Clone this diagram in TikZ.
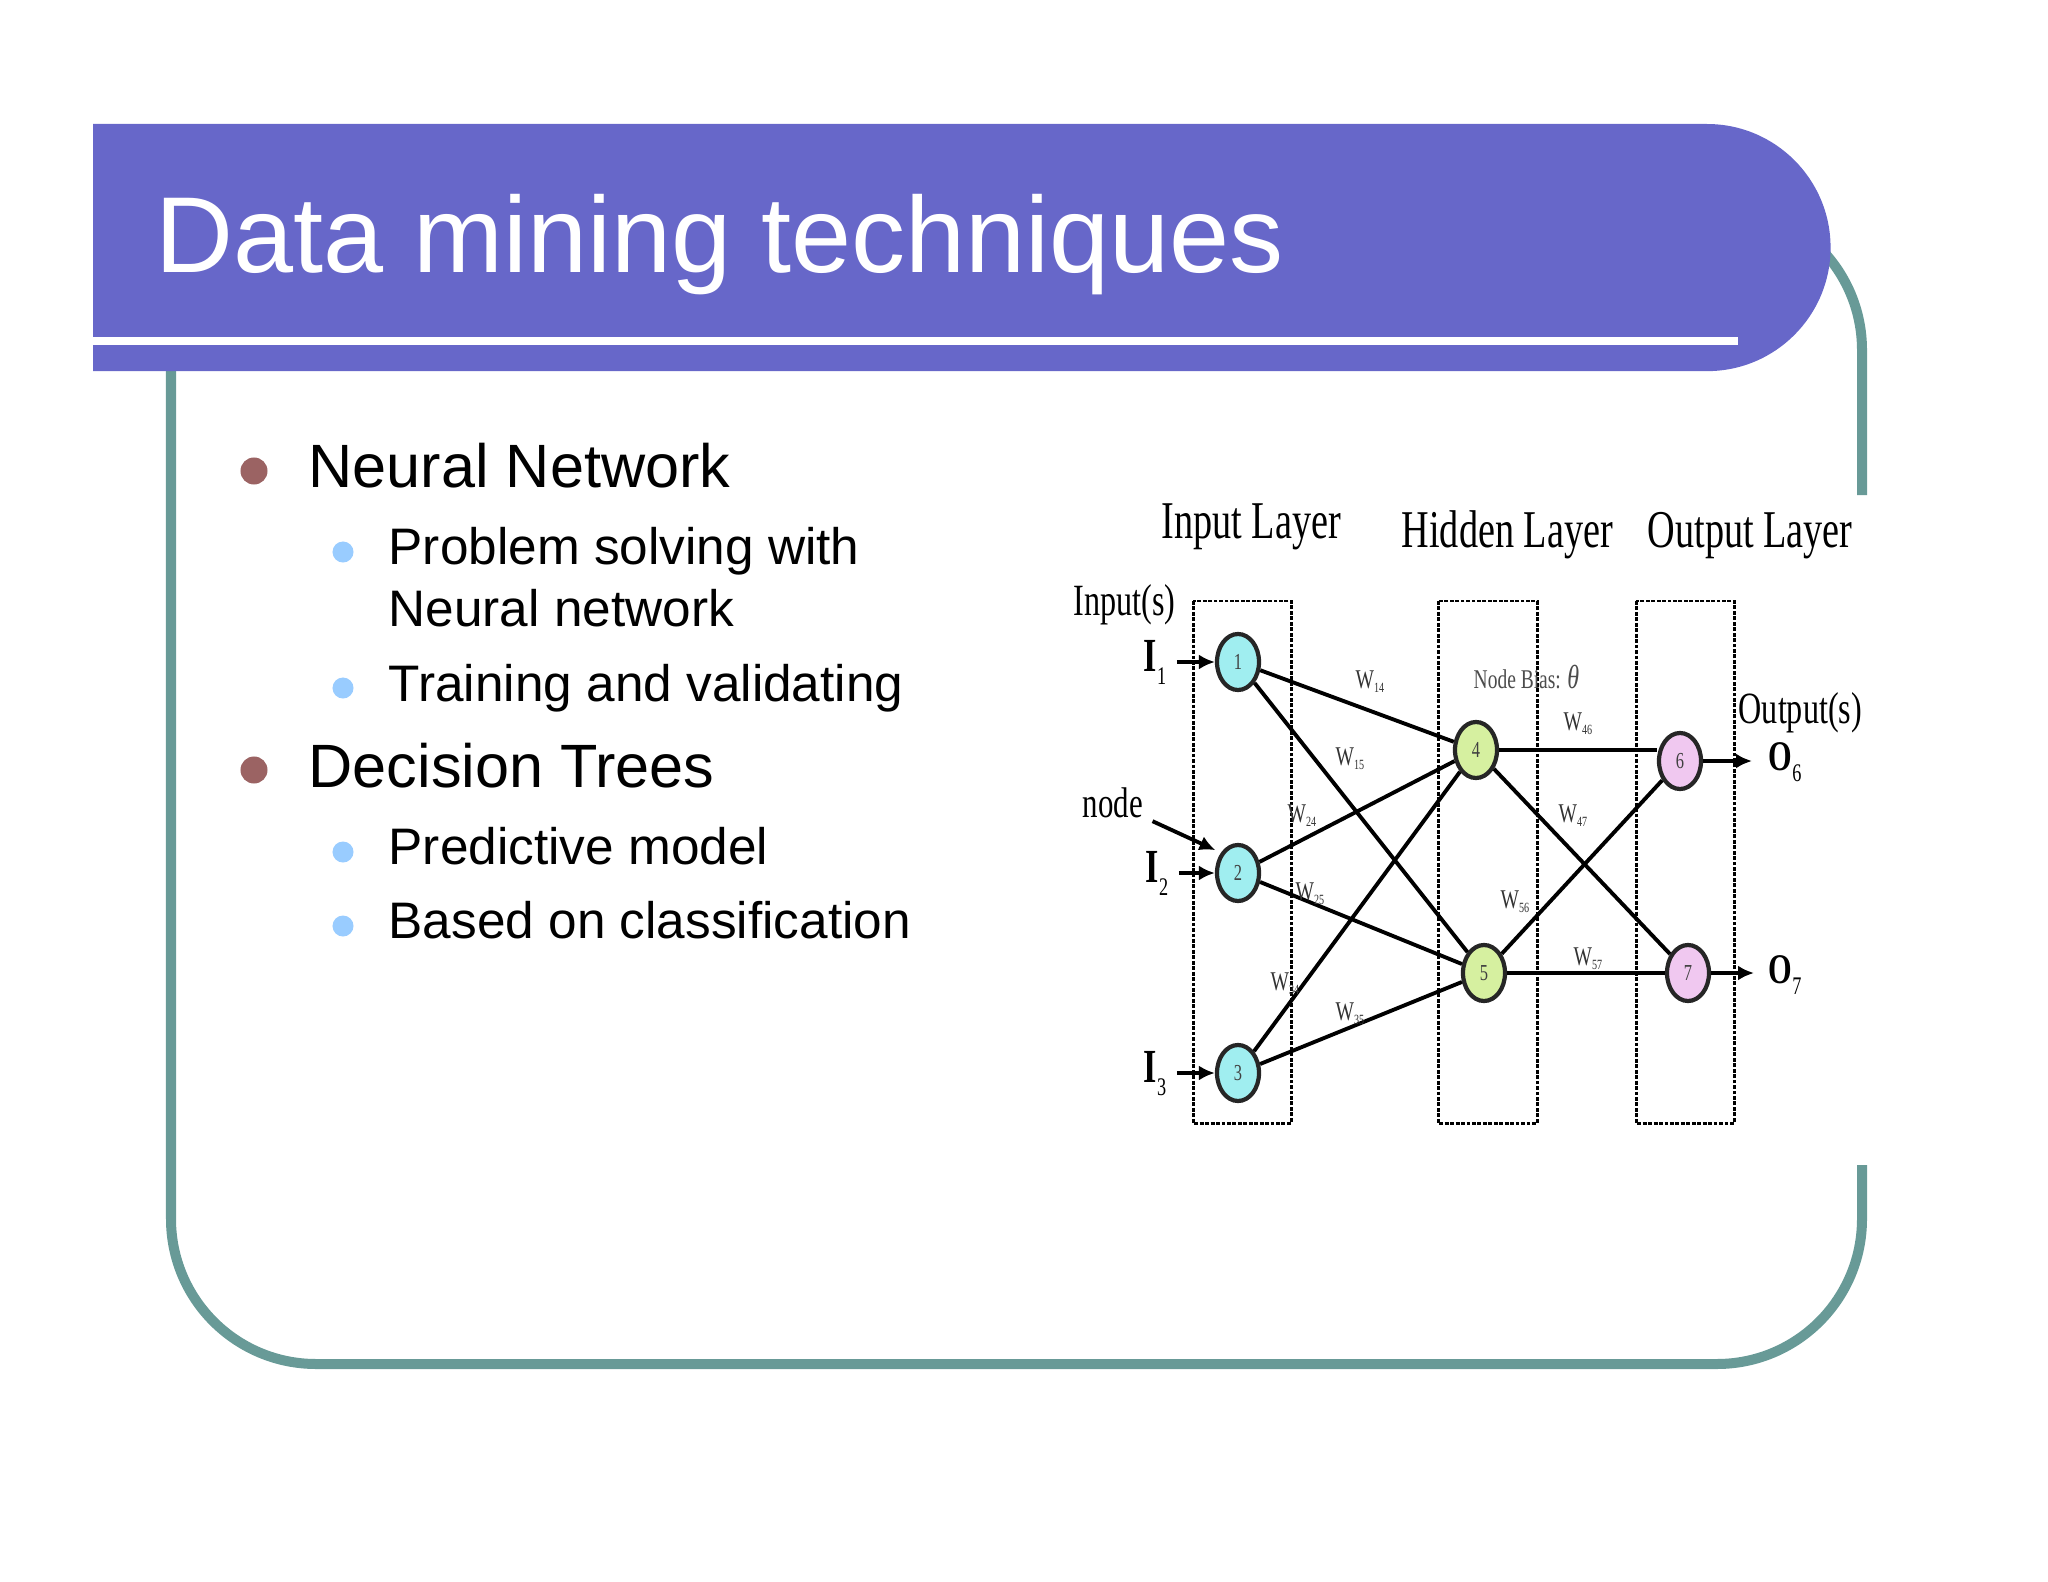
\documentclass[tikz,border=0pt]{standalone}
\usepackage{fontspec}
\setmainfont{Liberation Sans}
\newfontfamily\diagfont[FakeStretch=0.72]{Liberation Serif}
\usepackage{tikz}
\usetikzlibrary{shapes.geometric}
\usetikzlibrary{arrows.meta}

\definecolor{bannerblue}{RGB}{103,103,201}
\definecolor{frameteal}{RGB}{104,154,151}
\definecolor{bulletbrown}{RGB}{155,99,99}
\definecolor{bulletblue}{RGB}{153,204,255}
\definecolor{neuroncyan}{RGB}{160,238,240}
\definecolor{neurongreen}{RGB}{214,240,160}
\definecolor{neuronpink}{RGB}{240,200,240}

\newcommand{\wlabel}[1]{W\raisebox{-0.4ex}{\fontsize{4}{5}\selectfont #1}}
\newcommand{\ioname}[2]{{\bfseries #1}\raisebox{-0.6ex}{\fontsize{7.2}{8}\selectfont #2}}

\tikzset{
  slideframe/.style={draw=frameteal, line width=0.1cm},
  bullettext/.style={anchor=base west, inner sep=0pt, font=\fontsize{17.4}{21}\selectfont},
  subtext/.style={anchor=base west, inner sep=0pt, font=\fontsize{14.6}{17.6}\selectfont},
  layertitle/.style={anchor=base west, inner sep=0pt, font=\diagfont\fontsize{15.1}{18}\selectfont},
  sidetext/.style={anchor=base west, inner sep=0pt, font=\diagfont\fontsize{12.7}{15}\selectfont},
  termlabel/.style={anchor=base west, inner sep=0pt, font=\diagfont\fontsize{13.5}{15}\selectfont},
  layerbox/.style={draw, line width=0.85pt, dash pattern=on 1.1pt off 0.45pt},
  neuron/.style={ellipse, draw=black!85, line width=1.2pt, minimum width=0.42cm,
    minimum height=0.56cm, inner sep=0pt, text=black!75,
    font=\diagfont\fontsize{6.5}{7}\selectfont},
  link/.style={line width=1.1pt},
  signal/.style={link, -{Latex[length=0.16cm, width=0.15cm]}},
  weight/.style={anchor=base west, inner sep=0pt, text=black!80,
    font=\diagfont\fontsize{7.7}{9}\selectfont},
}

\begin{document}
\begin{tikzpicture}[x=0.01cm, y=-0.01cm]
      \useasboundingbox (0,0) rectangle (2048,1582);
      % slide frame and title banner
      \draw[slideframe, rounded corners=1.45cm] (1862,495) -- (1862,205) -- (171,205)
        -- (171,1364) -- (1862,1364) -- (1862,1165);
      \fill[bannerblue] (93,124) -- (1707,124) arc[start angle=90, end angle=-90, radius=1.235cm]
        -- (93,371) -- cycle;
      \fill[white] (93,337) rectangle (1738,345);
      \node[anchor=base west, inner sep=0pt, text=white, font=\fontsize{30.7}{36}\selectfont]
        (title) at (155,273) {Data mining techniques};

      % bullet list
      \fill[bulletbrown] (254,471) circle (0.135cm);
      \node[bullettext] (neural) at (308,487) {Neural Network};
      \fill[bulletblue] (343,552) circle (0.105cm);
      \node[subtext] (problem) at (388,564) {Problem solving with};
      \node[subtext] (problemb) at (388,626) {Neural network};
      \fill[bulletblue] (343,688) circle (0.105cm);
      \node[subtext] (training) at (388,701) {Training and validating};
      \fill[bulletbrown] (254,770) circle (0.135cm);
      \node[bullettext] (decision) at (308,787) {Decision Trees};
      \fill[bulletblue] (343,852) circle (0.105cm);
      \node[subtext] (predictive) at (388,864) {Predictive model};
      \fill[bulletblue] (343,926) circle (0.105cm);
      \node[subtext] (based) at (388,938) {Based on classification};

      % network: layer boxes and titles
      \draw[layerbox] (1193,601) rectangle (1291,1123);
      \draw[layerbox] (1438,601) rectangle (1537,1123);
      \draw[layerbox] (1636,601) rectangle (1734,1123);
      \node[layertitle] (inlayer) at (1161,538) {Input Layer};
      \node[layertitle] (hidlayer) at (1401,547) {Hidden Layer};
      \node[layertitle] (outlayer) at (1647,547) {Output Layer};
      \node[sidetext] (inputs) at (1073,615) {Input(s)};
      \node[sidetext] (outputs) at (1738,723) {Output(s)};
      \node[sidetext, font=\diagfont\fontsize{12.2}{14}\selectfont] (nodelbl) at (1082,817) {node};
      \node[weight, text=black!70] (bias) at (1473,688) {Node Bias: {\fontsize{9.5}{10}\selectfont\itshape θ}};

      % neurons
      \node[neuron, fill=neuroncyan] (n1) at (1238,662) {1};
      \node[neuron, fill=neuroncyan] (n2) at (1238,873) {2};
      \node[neuron, fill=neuroncyan] (n3) at (1238,1073) {3};
      \node[neuron, fill=neurongreen] (n4) at (1476,750) {4};
      \node[neuron, fill=neurongreen] (n5) at (1484,973) {5};
      \node[neuron, fill=neuronpink] (n6) at (1680,761) {6};
      \node[neuron, fill=neuronpink] (n7) at (1688,973) {7};

      % inputs and outputs
      \node[termlabel] (i1) at (1143,671) {\ioname{I}{1}};
      \node[termlabel] (i2) at (1145,882) {\ioname{I}{2}};
      \node[termlabel] (i3) at (1143,1082) {\ioname{I}{3}};
      \node[termlabel, font=\diagfont\fontsize{12}{14}\selectfont] (o6) at (1768,770) {\ioname{O}{6}};
      \node[termlabel, font=\diagfont\fontsize{12}{14}\selectfont] (o7) at (1768,983) {\ioname{O}{7}};
      \draw[signal, shorten <=0.1cm] (i1.east |- n1) -- (n1);
      \draw[signal, shorten <=0.1cm] (i2.east |- n2) -- (n2);
      \draw[signal, shorten <=0.1cm] (i3.east |- n3) -- (n3);
      \draw[signal, shorten >=0.16cm] (n6.east) -- (n6.east -| o6.west);
      \draw[signal, shorten >=0.14cm] (n7.east) -- (n7.east -| o7.west);
      \draw[signal, shorten <=0.1cm, shorten >=0.06cm] (nodelbl.base east) -- (n2.130);

      % weighted links
      \draw[link] (n1) -- (n4);
      \draw[link] (n1) -- (n5);
      \draw[link] (n2) -- (n4);
      \draw[link] (n2) -- (n5);
      \draw[link] (n3) -- (n4);
      \draw[link] (n3) -- (n5);
      \draw[link] (n4.east) -- (n4.east -| n6.west);
      \draw[link] (n4) -- (n7);
      \draw[link] (n5) -- (n6);
      \draw[link] (n5) -- (n7);
      \node[weight] (w14) at (1355,688) {\wlabel{14}};
      \node[weight] (w15) at (1335,765) {\wlabel{15}};
      \node[weight] (w24) at (1287,822) {\wlabel{24}};
      \node[weight] (w25) at (1295,900) {\wlabel{25}};
      \node[weight] (w34) at (1270,990) {\wlabel{34}};
      \node[weight] (w35) at (1335,1020) {\wlabel{35}};
      \node[weight] (w46) at (1563,730) {\wlabel{46}};
      \node[weight] (w47) at (1558,822) {\wlabel{47}};
      \node[weight] (w56) at (1500,908) {\wlabel{56}};
      \node[weight] (w57) at (1573,965) {\wlabel{57}};
\end{tikzpicture}
\end{document}
